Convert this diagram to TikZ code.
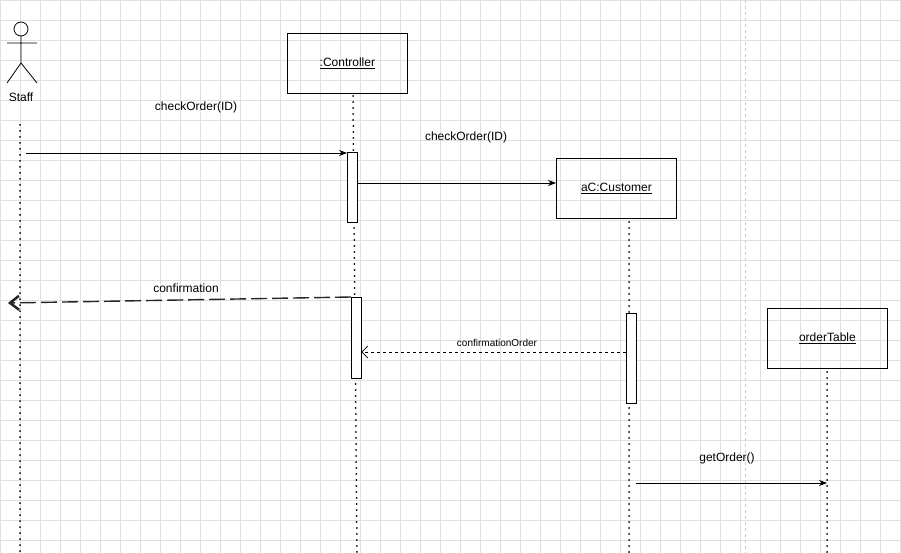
\documentclass[tikz,border=0pt]{standalone}
\usepackage{fontspec}
\setmainfont{Liberation Sans}
\usetikzlibrary{arrows.meta}
\begin{document}
\begin{tikzpicture}[x=1pt,y=-1pt,
  obj/.style={draw,thick,minimum width=120pt,minimum height=60pt,inner sep=0pt,font=\fontsize{12}{14}\selectfont},
  life/.style={line width=2pt,line cap=round,dash pattern=on 0pt off 6pt},
  act/.style={draw,fill=white,minimum width=10pt,inner sep=0pt},
  msg/.style={-{Stealth[length=8pt]},line width=0.9pt},
  lbl/.style={font=\fontsize{12}{14}\selectfont},
  slbl/.style={font=\fontsize{10}{12}\selectfont}]
\useasboundingbox (0,0) rectangle (901,553);
\fill[white] (0,0) rectangle (901,553);
\draw[black!12,step=20pt] (-3,-3) grid (901,553);
\draw[black!20,dashed] (745,0) -- (745,553);
% actor
\draw[thick] (21,29) circle (7pt);
\draw[thick] (21,36) -- (21,63) (7,43) -- (37,43) (7,83) -- (21,63) -- (37,83);
\node[lbl] (staff) at (21,97) {Staff};
\coordinate (s0) at (20,125); \coordinate (s1) at (20,553);
\draw[life] (s0) -- (s1);
% objects
\node[obj,anchor=north west] (ctl) at (287,33) {\underline{:Controller}};
\node[obj,anchor=north west] (cus) at (556,158) {\underline{aC:Customer}};
\node[obj,anchor=north west] (ord) at (767,308) {\underline{orderTable}};
\coordinate (c0) at (353,96); \coordinate (c1) at (357,553);
\coordinate (u1) at (629,553); \coordinate (o1) at (827,553);
\draw[life] (c0) -- (c1);
\draw[life] (629,222) -- (u1);
\draw[life] (827,372) -- (o1);
% activations
\node[act,minimum height=70pt,anchor=north west] (a1) at (347,152) {};
\node[act,minimum height=81pt,anchor=north west] (a2) at (351,297) {};
\node[act,minimum height=90pt,anchor=north west] (a3) at (626,313) {};
% messages
\coordinate (m1s) at (26,153);
\draw[msg] (m1s) -- (a1.north west |- m1s);
\node[lbl] (l1) at (196,107) {checkOrder(ID)};
\draw[msg] (a1.east |- 0,183) -- (cus.west |- 0,183);
\node[lbl] (l2) at (466,137) {checkOrder(ID)};
\draw[-{Straight Barb[length=6pt]},dashed,line width=0.6pt] (a3.west |- 0,352) -- (a2.east |- 0,352);
\node[slbl] (l3) at (497,343) {confirmationOrder};
\coordinate (m4e) at (8,303);
\draw[-{Straight Barb[length=9pt,width=14pt,line width=2.5pt]},dash pattern=on 16pt off 5pt,line width=1.4pt,black!85] (a2.north west) -- (m4e);
\node[lbl] (l4) at (186,288) {confirmation};
\draw[msg] (636,483) -- (o1 |- 0,483);
\node[lbl] (l5) at (727,458) {getOrder()};
\end{tikzpicture}
\end{document}
